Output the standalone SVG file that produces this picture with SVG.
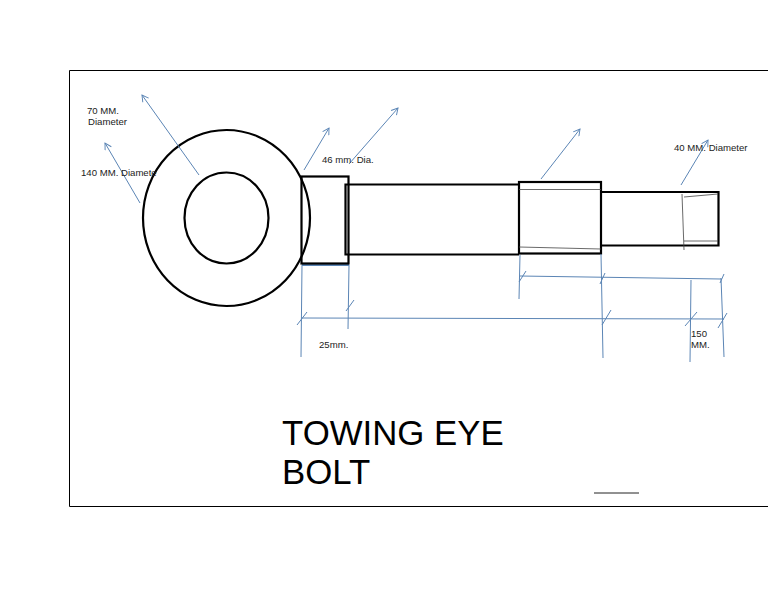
<svg xmlns="http://www.w3.org/2000/svg" width="768" height="594" viewBox="0 0 768 594">
<defs>
<marker id="open" viewBox="0 0 10 10" refX="9" refY="5" markerWidth="8" markerHeight="8" markerUnits="userSpaceOnUse" orient="auto"><path d="M1 0.5L9 5L1 9.5" fill="none" stroke="#5b85b5" stroke-width="1.2"/></marker>
</defs>
<style>
.dim{fill:none;stroke:#5b85b5;stroke-width:1}
.arr{fill:none;stroke:#5b85b5;stroke-width:1;marker-end:url(#open)}
.obj{fill:none;stroke:#000;stroke-width:2.2}
.thin{fill:none;stroke:#444;stroke-width:.8}
.lab{font-family:"Liberation Sans",Arial,sans-serif;font-size:9.6px;fill:#222}
.title{font-family:"Liberation Sans",Arial,sans-serif;font-size:34.800px;fill:#000}
</style>
<rect width="768" height="594" fill="#fff"/>
<path id="frame" d="M768 70.500H69.500V506.500H768" fill="none" stroke="#000" stroke-width="1"/>
<g id="eye"><ellipse cx="226.500" cy="218" rx="83.500" ry="88" class="obj"/><ellipse cx="226.500" cy="218" rx="42" ry="45.500" class="obj"/></g>
<g id="collar"><path d="M302 265H349" stroke="#5b85b5" stroke-width="2" fill="none"/><rect x="301.500" y="176.500" width="47" height="87" class="obj" stroke-width="2.500"/></g>
<g id="shank"><path d="M348.500 184.500H345.500V254.500H348.500M348.500 184.500H519M348.500 254.500H519" class="obj"/></g>
<g id="nut"><rect x="519" y="182" width="82" height="71.500" class="obj"/><path d="M519 189.500H601M519 247L601 249" class="thin"/></g>
<g id="thread"><path d="M601 192H718.500V245.500H601" class="obj"/><path d="M682 194L684 250M684 197L718 194M684 241H718" class="thin"/></g>
<g id="connectors">
<path class="arr" d="M199 175L142 95"/>
<path class="arr" d="M140 203L105 143"/>
<path class="arr" d="M304 170L329 128"/>
<path class="arr" d="M349 164L398 108"/>
<path class="arr" d="M541 179L580 129"/>
<path class="arr" d="M681 185L708 140"/>
<path class="dim" d="M302 265L301 357M349 265L348 329M520 255L519 299M601 254L603 358M691 280L690 362M721 278L724 357"/>
<path class="dim" d="M302 318L724 319M520 276L721 279"/>
<path class="dim" d="M297 325L307 312M346 311L354 300M602 325L611 310M685 326L697 312M718 328L727 313M519 282L526 271M600 284L605 273M720 283L724 274"/>
</g>
<g id="labels">
<text class="lab" x="87" y="114">70 MM.</text>
<text class="lab" x="88" y="125">Diameter</text>
<text class="lab" x="81" y="176">140 MM. Diamete</text>
<text class="lab" x="322" y="163">46 mm. Dia.</text>
<text class="lab" x="674" y="151">40 MM. Diameter</text>
<text class="lab" x="319" y="348">25mm.</text>
<text class="lab" x="691" y="337">150</text>
<text class="lab" x="691" y="348">MM.</text>
<text class="title" x="282" y="444.500">TOWING EYE</text>
<text class="title" x="282" y="484">BOLT</text>
</g>
<path id="mark" d="M594 493H639" stroke="#222" stroke-width="1" fill="none"/>
</svg>
